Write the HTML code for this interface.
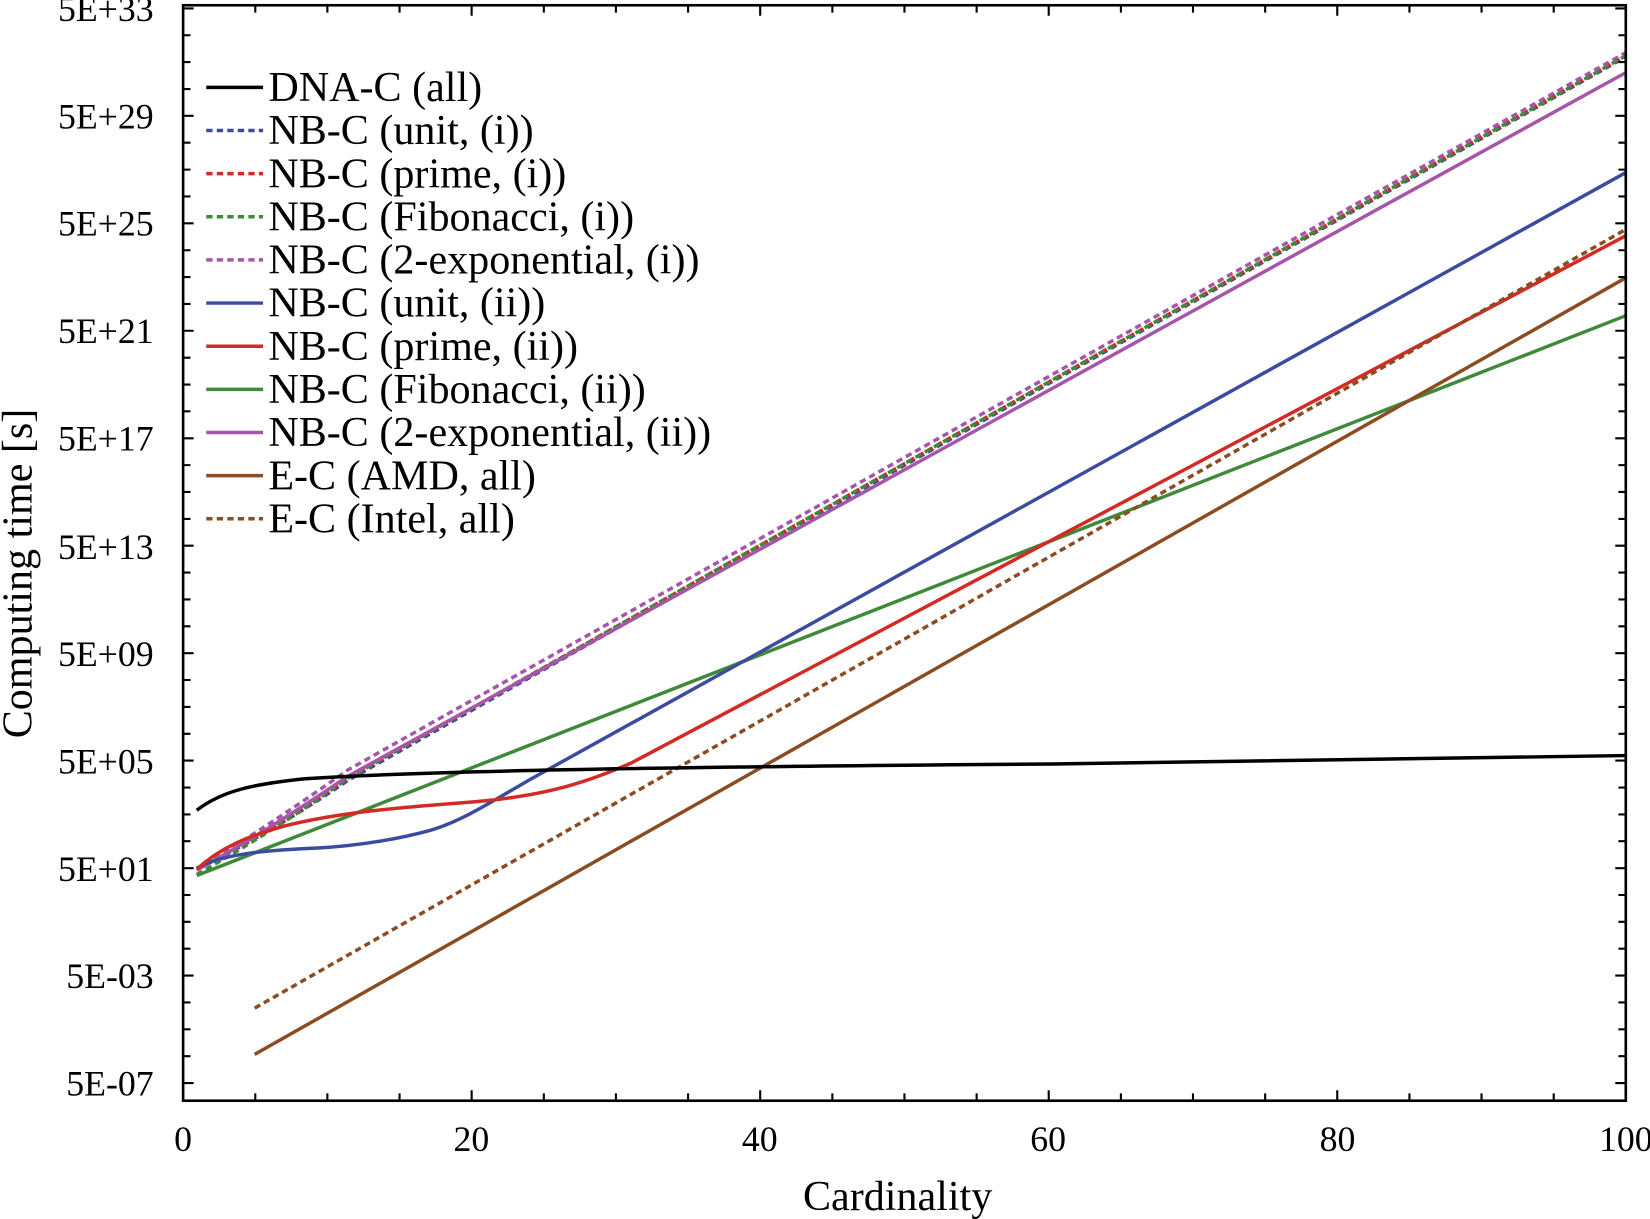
<!DOCTYPE html>
<html><head><meta charset="utf-8"><style>
html,body{margin:0;padding:0;background:#fff}
svg{display:block}
text{font-family:"Liberation Serif",serif;fill:#000}
</style></head><body>
<svg width="1650" height="1219" viewBox="0 0 1568 1158.4" preserveAspectRatio="none" xmlns="http://www.w3.org/2000/svg">
<g fill="none" stroke-width="3.3">
<path d="M187,826 Q260,790 330,742 L1545,54" stroke="#3b4ba0" stroke-dasharray="6,4"/>
<path d="M187,826 Q260,788 330,740 L1545,53" stroke="#d42a24" stroke-dasharray="6,4"/>
<path d="M187,831 Q260,790 330,740 L1545,53" stroke="#3f8a3a" stroke-dasharray="6,4"/>
<path d="M187,826 Q260,782 330,732 L1545,50" stroke="#a655a8" stroke-dasharray="6,4"/>
<path d="M187,827 Q260,786 330,738 L1545,69" stroke="#a655a8"/>
<path d="M187,832 L1545,300" stroke="#3f8a3a"/>
<path d="M187,825 C210,812 250,808 300,806 C340,804 380,797 409,789 C440,780 470,760 505,740 L1545,164" stroke="#3b4ba0"/>
<path d="M187,826 C210,805 235,795 270,785 C330,770 400,766 450,762 C510,757 550,747 600,725 L1545,224" stroke="#d42a24"/>
<path d="M242,1002 L1545,264" stroke="#8b4c22"/>
<path d="M242,958 L1545,218" stroke="#8b4c22" stroke-dasharray="6,4"/>
<path d="M187,770 C210,752 240,745 290,740 C400,733 600,729 1000,726 L1545,718" stroke="#000"/>
</g>
<rect x="174" y="5" width="1371" height="1041" fill="none" stroke="#000" stroke-width="2.5"/>
<g stroke="#000" stroke-width="2">
<path id="yt" d="M174,8h10M174,33.5h7M174,59h7M174,84.6h7M174,110.1h10M174,135.6h7M174,161.2h7M174,186.7h7M174,212.2h10M174,237.8h7M174,263.3h7M174,288.8h7M174,314.3h10M174,339.9h7M174,365.4h7M174,390.9h7M174,416.5h10M174,442h7M174,467.5h7M174,493.1h7M174,518.6h10M174,544.1h7M174,569.6h7M174,595.2h7M174,620.7h10M174,646.2h7M174,671.8h7M174,697.3h7M174,722.8h10M174,748.4h7M174,773.9h7M174,799.4h7M174,825h10M174,850.5h7M174,876h7M174,901.5h7M174,927.1h10M174,952.6h7M174,978.1h7M174,1003.7h7M174,1029.2h10"/>
<use href="#yt" transform="translate(1719,0) scale(-1,1)"/>
<path id="xt" d="M174,1046v-10M242.6,1046v-7M311.1,1046v-7M379.7,1046v-7M448.2,1046v-10M516.8,1046v-7M585.3,1046v-7M653.9,1046v-7M722.4,1046v-10M791,1046v-7M859.5,1046v-7M928.1,1046v-7M996.6,1046v-10M1065.2,1046v-7M1133.7,1046v-7M1202.3,1046v-7M1270.8,1046v-10M1339.4,1046v-7M1407.9,1046v-7M1476.5,1046v-7M1545,1046v-10"/>
<use href="#xt" transform="translate(0,1051) scale(1,-1)"/>
</g>
<g font-size="34" text-anchor="end">
<text x="146" y="20">5E+33</text><text x="146" y="122">5E+29</text><text x="146" y="224">5E+25</text><text x="146" y="326">5E+21</text><text x="146" y="428">5E+17</text><text x="146" y="531">5E+13</text><text x="146" y="633">5E+09</text><text x="146" y="735">5E+05</text><text x="146" y="837">5E+01</text><text x="146" y="939">5E-03</text><text x="146" y="1041">5E-07</text>
</g>
<g font-size="34" text-anchor="middle">
<text x="174" y="1094">0</text><text x="448" y="1094">20</text><text x="722" y="1094">40</text><text x="996" y="1094">60</text><text x="1271" y="1094">80</text><text x="1545" y="1094">100</text>
</g>
<text x="853" y="1150" font-size="40" text-anchor="middle">Cardinality</text>
<text transform="translate(30,545) rotate(-90)" font-size="40" text-anchor="middle">Computing time [s]</text>
<g stroke-width="3.3">
<line x1="196" y1="83" x2="250" y2="83" stroke="#000"/>
<line x1="196" y1="124" x2="250" y2="124" stroke="#3b4ba0" stroke-dasharray="6,4"/>
<line x1="196" y1="165" x2="250" y2="165" stroke="#d42a24" stroke-dasharray="6,4"/>
<line x1="196" y1="206" x2="250" y2="206" stroke="#3f8a3a" stroke-dasharray="6,4"/>
<line x1="196" y1="247" x2="250" y2="247" stroke="#a655a8" stroke-dasharray="6,4"/>
<line x1="196" y1="288" x2="250" y2="288" stroke="#3b4ba0"/>
<line x1="196" y1="329" x2="250" y2="329" stroke="#d42a24"/>
<line x1="196" y1="370" x2="250" y2="370" stroke="#3f8a3a"/>
<line x1="196" y1="411" x2="250" y2="411" stroke="#a655a8"/>
<line x1="196" y1="452" x2="250" y2="452" stroke="#8b4c22"/>
<line x1="196" y1="493" x2="250" y2="493" stroke="#8b4c22" stroke-dasharray="6,4"/>
</g>
<g font-size="40">
<text x="255" y="96">DNA-C (all)</text>
<text x="255" y="137">NB-C (unit, (i))</text>
<text x="255" y="178">NB-C (prime, (i))</text>
<text x="255" y="219">NB-C (Fibonacci, (i))</text>
<text x="255" y="260">NB-C (2-exponential, (i))</text>
<text x="255" y="301">NB-C (unit, (ii))</text>
<text x="255" y="342">NB-C (prime, (ii))</text>
<text x="255" y="383">NB-C (Fibonacci, (ii))</text>
<text x="255" y="424">NB-C (2-exponential, (ii))</text>
<text x="255" y="465">E-C (AMD, all)</text>
<text x="255" y="506">E-C (Intel, all)</text>
</g>
</svg>
</body></html>
